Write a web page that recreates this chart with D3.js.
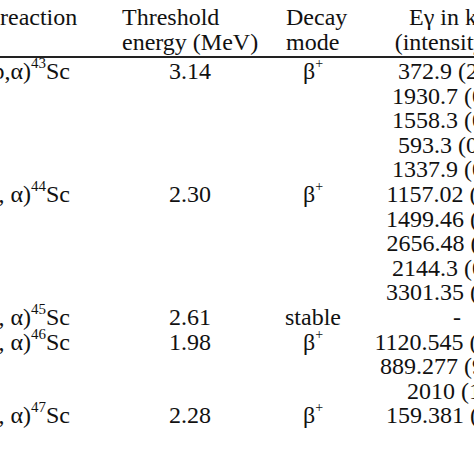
<!DOCTYPE html>
<html><head><meta charset="utf-8">
<script src="https://cdn.jsdelivr.net/npm/d3@7"></script>
<style>body{margin:0;background:#fff}svg{font-family:"Liberation Serif","Times New Roman",serif;font-size:24px;fill:#111}</style>
</head><body>
<script>
// one entry per table line (15 data lines)
const reactions = ["(p,α)", "", "", "", "", "(p, α)", "", "", "", "", "(p, α)", "(p, α)", "", "", "(p, α)"];
const products = ["43", "", "", "", "", "44", "", "", "", "", "45", "46", "", "", "47"];
const thresholds = ["3.14", "", "", "", "", "2.30", "", "", "", "", "2.61", "1.98", "", "", "2.28"];
const decayModes = ["β+", "", "", "", "", "β+", "", "", "", "", "stable", "β+", "", "", "β+"];
const gammaLines = ["372.9 (22.5)", "1930.7 (0.06)", "1558.3 (0.05)", "593.3 (0.04)", "1337.9 (0.02)",
  "1157.02 (99.9)", "1499.46 (0.91)", "2656.48 (0.11)", "2144.3 (0.01)", "3301.35 (0.01)",
  "-", "1120.545 (99.98)", "889.277 (99.98)", "2010 (1.3)", "159.381 (68.3)"];

const W = 474, H = 474;
const svg = d3.select("body").append("svg").attr("width", W).attr("height", H);

const y = d3.scaleLinear().domain([0, 1]).range([71, 95.6]);

// header
const header = [
  {x: 0, a: "start", l: ["reaction", ""]},
  {x: 122, a: "start", l: ["Threshold", "energy (MeV)"]},
  {x: 286, a: "start", l: ["Decay", "mode"]},
  {x: 457, a: "middle", l: ["Eγ in keV", "(intensity %)"]},
];
header.forEach(h => h.l.forEach((t, i) => {
  svg.append("text").attr("x", h.x).attr("y", 17 + i * 25)
    .attr("dominant-baseline", "central").attr("text-anchor", h.a).text(t);
}));
svg.append("line").attr("x1", 0).attr("x2", W).attr("y1", 57).attr("y2", 57)
  .attr("stroke", "#222").attr("stroke-width", 2);

const rows = d3.range(gammaLines.length);
const g = svg.selectAll("g.row").data(rows).join("g").attr("class", "row")
  .attr("transform", i => `translate(0,${y(i)})`);

const rx = g.filter(i => reactions[i]).append("text").attr("x", 70).attr("text-anchor", "end")
  .attr("dominant-baseline", "central");
rx.append("tspan").text(i => reactions[i]);
rx.append("tspan").attr("font-size", 15).attr("dy", -8).text(i => products[i]);
rx.append("tspan").attr("dy", 8).text("Sc");

g.append("text").attr("x", 190).attr("text-anchor", "middle").attr("dominant-baseline", "central")
  .text(i => thresholds[i]);

const dm = g.filter(i => decayModes[i]).append("text").attr("x", 313).attr("text-anchor", "middle")
  .attr("dominant-baseline", "central");
dm.append("tspan").text(i => decayModes[i] === "stable" ? "stable" : "β");
dm.filter(i => decayModes[i] === "β+").append("tspan").attr("font-size", 14).attr("dy", -8).text("+");

g.append("text").attr("x", 457).attr("text-anchor", "middle").attr("dominant-baseline", "central")
  .text(i => gammaLines[i]);
</script>
</body></html>
